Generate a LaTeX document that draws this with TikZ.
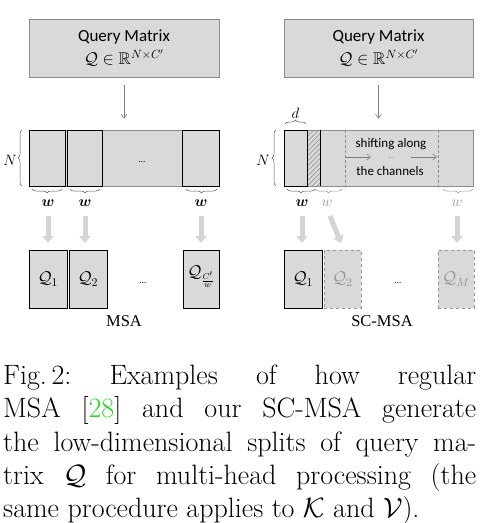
\RequirePackage{fix-cm}
\documentclass[tikz,border=0pt]{standalone}
\usepackage{amsmath,amssymb}
\usepackage{fontspec}
\newfontfamily\calib{Carlito}
\newfontfamily\tms{Liberation Serif}
\usetikzlibrary{arrows.meta,decorations.pathreplacing,patterns.meta}
\definecolor{boxgray}{RGB}{217,217,217}
\definecolor{edgegray}{RGB}{140,140,140}
\definecolor{arrowgray}{RGB}{125,125,125}
\definecolor{thickgray}{RGB}{212,212,212}
\definecolor{txtgray}{RGB}{150,150,150}
\definecolor{bracegray}{RGB}{90,90,90}
\definecolor{citegreen}{RGB}{30,220,30}
\begin{document}
\begin{tikzpicture}[x=1pt,y=-1pt,
  qmat/.style={draw=edgegray,line width=0.6pt,fill=boxgray,inner sep=0pt,
    align=center,font=\calib\fontsize{17}{22}\selectfont},
  grayreg/.style={draw=edgegray,line width=0.6pt,fill=boxgray,inner sep=0pt},
  blkbox/.style={draw=black,line width=1pt,fill=boxgray,inner sep=0pt},
  dashbox/.style={draw=txtgray,dashed,line width=0.8pt,fill=boxgray,inner sep=0pt,text=txtgray},
  thinarrow/.style={draw=arrowgray,line width=0.6pt,-{Straight Barb[length=4pt,width=6pt]}},
  fatarrow/.style={draw=thickgray,line width=5pt,-{Triangle[length=7pt,width=11pt]}},
  brc/.style={draw=bracegray,line width=0.5pt,decorate,decoration={brace,amplitude=4pt}},
  brcg/.style={draw=txtgray,line width=0.5pt,decorate,decoration={brace,amplitude=4pt}},
  lbl/.style={inner sep=0pt,font=\fontsize{15}{18}\selectfont},
  qlbl/.style={inner sep=0pt,font=\fontsize{17}{20}\selectfont},
  smalltxt/.style={inner sep=0pt,font=\calib\fontsize{13}{15}\selectfont},
  dotstxt/.style={inner sep=0pt,font=\calib\fontsize{9}{10}\selectfont},
  captext/.style={inner sep=0pt,anchor=base west,font=\fontsize{28}{33.5}\selectfont}
]
\useasboundingbox (0,0) rectangle (498,523);

% ---------------- MSA ----------------
\node[qmat,minimum width=190pt,minimum height=58pt] (qa) at (124,48)
  {Query Matrix\\[1pt] $\mathcal{Q}\in\mathbb{R}^{N\times C'}$};
\node[grayreg,minimum width=190pt,minimum height=56pt] (ma) at (124,158) {};
\node[blkbox,minimum width=36pt,minimum height=56pt] (a1) at (47.2,158) {};
\node[blkbox,minimum width=35pt,minimum height=56pt] (a2) at (84.6,158) {};
\node[blkbox,minimum width=37pt,minimum height=56pt] (a3) at (200.5,158) {};
\node[dotstxt] (adots) at (142,162) {…};
\draw[thinarrow,shorten <=8pt,shorten >=11pt] (qa.south) -- (ma.north);

\coordinate (anb) at (22,186); \coordinate (ant) at (22,130);
\draw[brc] (anb) -- (ant);
\node[lbl] (an) at (10,160) {$N$};

\coordinate (ab1r) at (62,189); \coordinate (ab1l) at (32,189);
\coordinate (ab2r) at (100,189); \coordinate (ab2l) at (70,189);
\coordinate (ab3r) at (217,189); \coordinate (ab3l) at (186,189);
\draw[brc] (ab1r) -- (ab1l);
\draw[brc] (ab2r) -- (ab2l);
\draw[brc] (ab3r) -- (ab3l);
\node[lbl] (aw1) at (48,203) {$\boldsymbol{w}$};
\node[lbl] (aw2) at (85,203) {$\boldsymbol{w}$};
\node[lbl] (aw3) at (201,203) {$\boldsymbol{w}$};

\node[blkbox,minimum width=38pt,minimum height=58pt] (aq1) at (48,279) {};
\node[blkbox,minimum width=38pt,minimum height=58pt] (aq2) at (88,279) {};
\node[blkbox,minimum width=36pt,minimum height=58pt] (aq3) at (201,279) {};
\node[qlbl] at (aq1.center) {$\mathcal{Q}_1$};
\node[qlbl] at (aq2.center) {$\mathcal{Q}_2$};
\node[qlbl] at ([yshift=2pt]aq3.center) {$\mathcal{Q}_{\frac{C'}{w}}$};
\node[dotstxt] (aqdots) at (143,283) {…};

\coordinate (af1s) at (48,216); \coordinate (af1e) at (48,243);
\coordinate (af2s) at (85,216); \coordinate (af2e) at (85,243);
\coordinate (af3s) at (201,216); \coordinate (af3e) at (201,243);
\draw[fatarrow] (af1s) -- (af1e);
\draw[fatarrow] (af2s) -- (af2e);
\draw[fatarrow] (af3s) -- (af3e);

\node[inner sep=0pt,font=\tms\fontsize{16.5}{18}\selectfont] (msa) at (124,321) {MSA};

% ---------------- SC-MSA ----------------
\node[qmat,minimum width=189pt,minimum height=58pt] (qb) at (378.5,48)
  {Query Matrix\\[1pt] $\mathcal{Q}\in\mathbb{R}^{N\times C'}$};
\node[grayreg,minimum width=189pt,minimum height=56pt] (mb) at (378.5,158) {};
\draw[thinarrow,shorten <=8pt,shorten >=11pt] (qb.south) -- (mb.north);
\node[draw=edgegray,line width=0.5pt,pattern={Lines[angle=45,distance=3.5pt,line width=0.5pt]},
  pattern color=edgegray,minimum width=13pt,minimum height=56pt,inner sep=0pt] (hatch) at (313.5,158) {};
\draw[black,line width=1pt] (hatch.north east) -- (hatch.south east);
\node[blkbox,minimum width=23pt,minimum height=56pt] (b1) at (295.5,158) {};
\coordinate (dl1t) at (345,130); \coordinate (dl1b) at (345,186);
\coordinate (dl2t) at (438,130); \coordinate (dl2b) at (438,186);
\draw[edgegray,line width=0.6pt,dash pattern=on 3pt off 2pt] (dl1t) -- (dl1b);
\draw[edgegray,line width=0.6pt,dash pattern=on 3pt off 2pt] (dl2t) -- (dl2b);
\node[smalltxt] (shift1) at (391,144) {shifting along};
\node[smalltxt] (shift2) at (390,171) {the channels};
\coordinate (sa1) at (345,157); \coordinate (sa1e) at (371,157);
\coordinate (sa2) at (411,157); \coordinate (sa2e) at (437,157);
\draw[thinarrow,line width=0.5pt] (sa1) -- (sa1e);
\draw[thinarrow,line width=0.5pt] (sa2) -- (sa2e);
\node[dotstxt,text=edgegray] (sdots) at (391,158) {…};

\coordinate (dbl) at (285,124); \coordinate (dbr) at (306,124);
\draw[brc] (dbl) -- (dbr);
\node[lbl] (dlab) at (295.5,113) {$d$};

\coordinate (bnb) at (276,186); \coordinate (bnt) at (276,130);
\draw[brc] (bnb) -- (bnt);
\node[lbl] (bn) at (263,160) {$N$};

\coordinate (bb1r) at (315,189); \coordinate (bb1l) at (287,189);
\coordinate (bb2r) at (342,189); \coordinate (bb2l) at (315,189);
\coordinate (bb3r) at (473,189); \coordinate (bb3l) at (443,189);
\draw[brc] (bb1r) -- (bb1l);
\draw[brcg] (bb2r) -- (bb2l);
\draw[brcg] (bb3r) -- (bb3l);
\node[lbl] (bw1) at (302,203) {$\boldsymbol{w}$};
\node[lbl,text=txtgray] (bw2) at (327,203) {$w$};
\node[lbl,text=txtgray] (bw3) at (457,203) {$w$};

\node[blkbox,minimum width=38pt,minimum height=58pt] (bq1) at (303,279) {};
\node[dashbox,minimum width=37pt,minimum height=58pt] (bq2) at (342.5,279) {};
\node[dashbox,minimum width=36pt,minimum height=58pt] (bq3) at (456,279) {};
\node[qlbl] at (bq1.center) {$\mathcal{Q}_1$};
\node[qlbl,text=txtgray] at (bq2.center) {$\mathcal{Q}_2$};
\node[qlbl,text=txtgray] at (bq3.center) {$\mathcal{Q}_M$};
\node[dotstxt] (bqdots) at (398,283) {…};

\coordinate (f1s) at (302,216); \coordinate (f1e) at (302,243);
\coordinate (f2s) at (330,216); \coordinate (f2e) at (341,243);
\coordinate (f3s) at (457,216); \coordinate (f3e) at (457,243);
\draw[fatarrow] (f1s) -- (f1e);
\draw[fatarrow] (f2s) -- (f2e);
\draw[fatarrow] (f3s) -- (f3e);

\node[inner sep=0pt,font=\tms\fontsize{16.5}{18}\selectfont] (scmsa) at (382,321) {SC-MSA};

% ---------------- caption ----------------
\node[captext] (c1) at (3,384) {\makebox[473pt][s]{Fig.\,2:\ Examples of how regular}};
\node[captext] (c2) at (3,417.5) {\makebox[473pt][s]{MSA [\textcolor{citegreen}{28}] and our SC-MSA generate}};
\node[captext] (c3) at (3,451) {\makebox[473pt][s]{the low-dimensional splits of query ma-}};
\node[captext] (c4) at (3,484.5) {\makebox[473pt][s]{trix $\mathcal{Q}$ for multi-head processing (the}};
\node[captext] (c5) at (3,517) {same procedure applies to $\mathcal{K}$ and $\mathcal{V}$).};
\end{tikzpicture}
\end{document}
